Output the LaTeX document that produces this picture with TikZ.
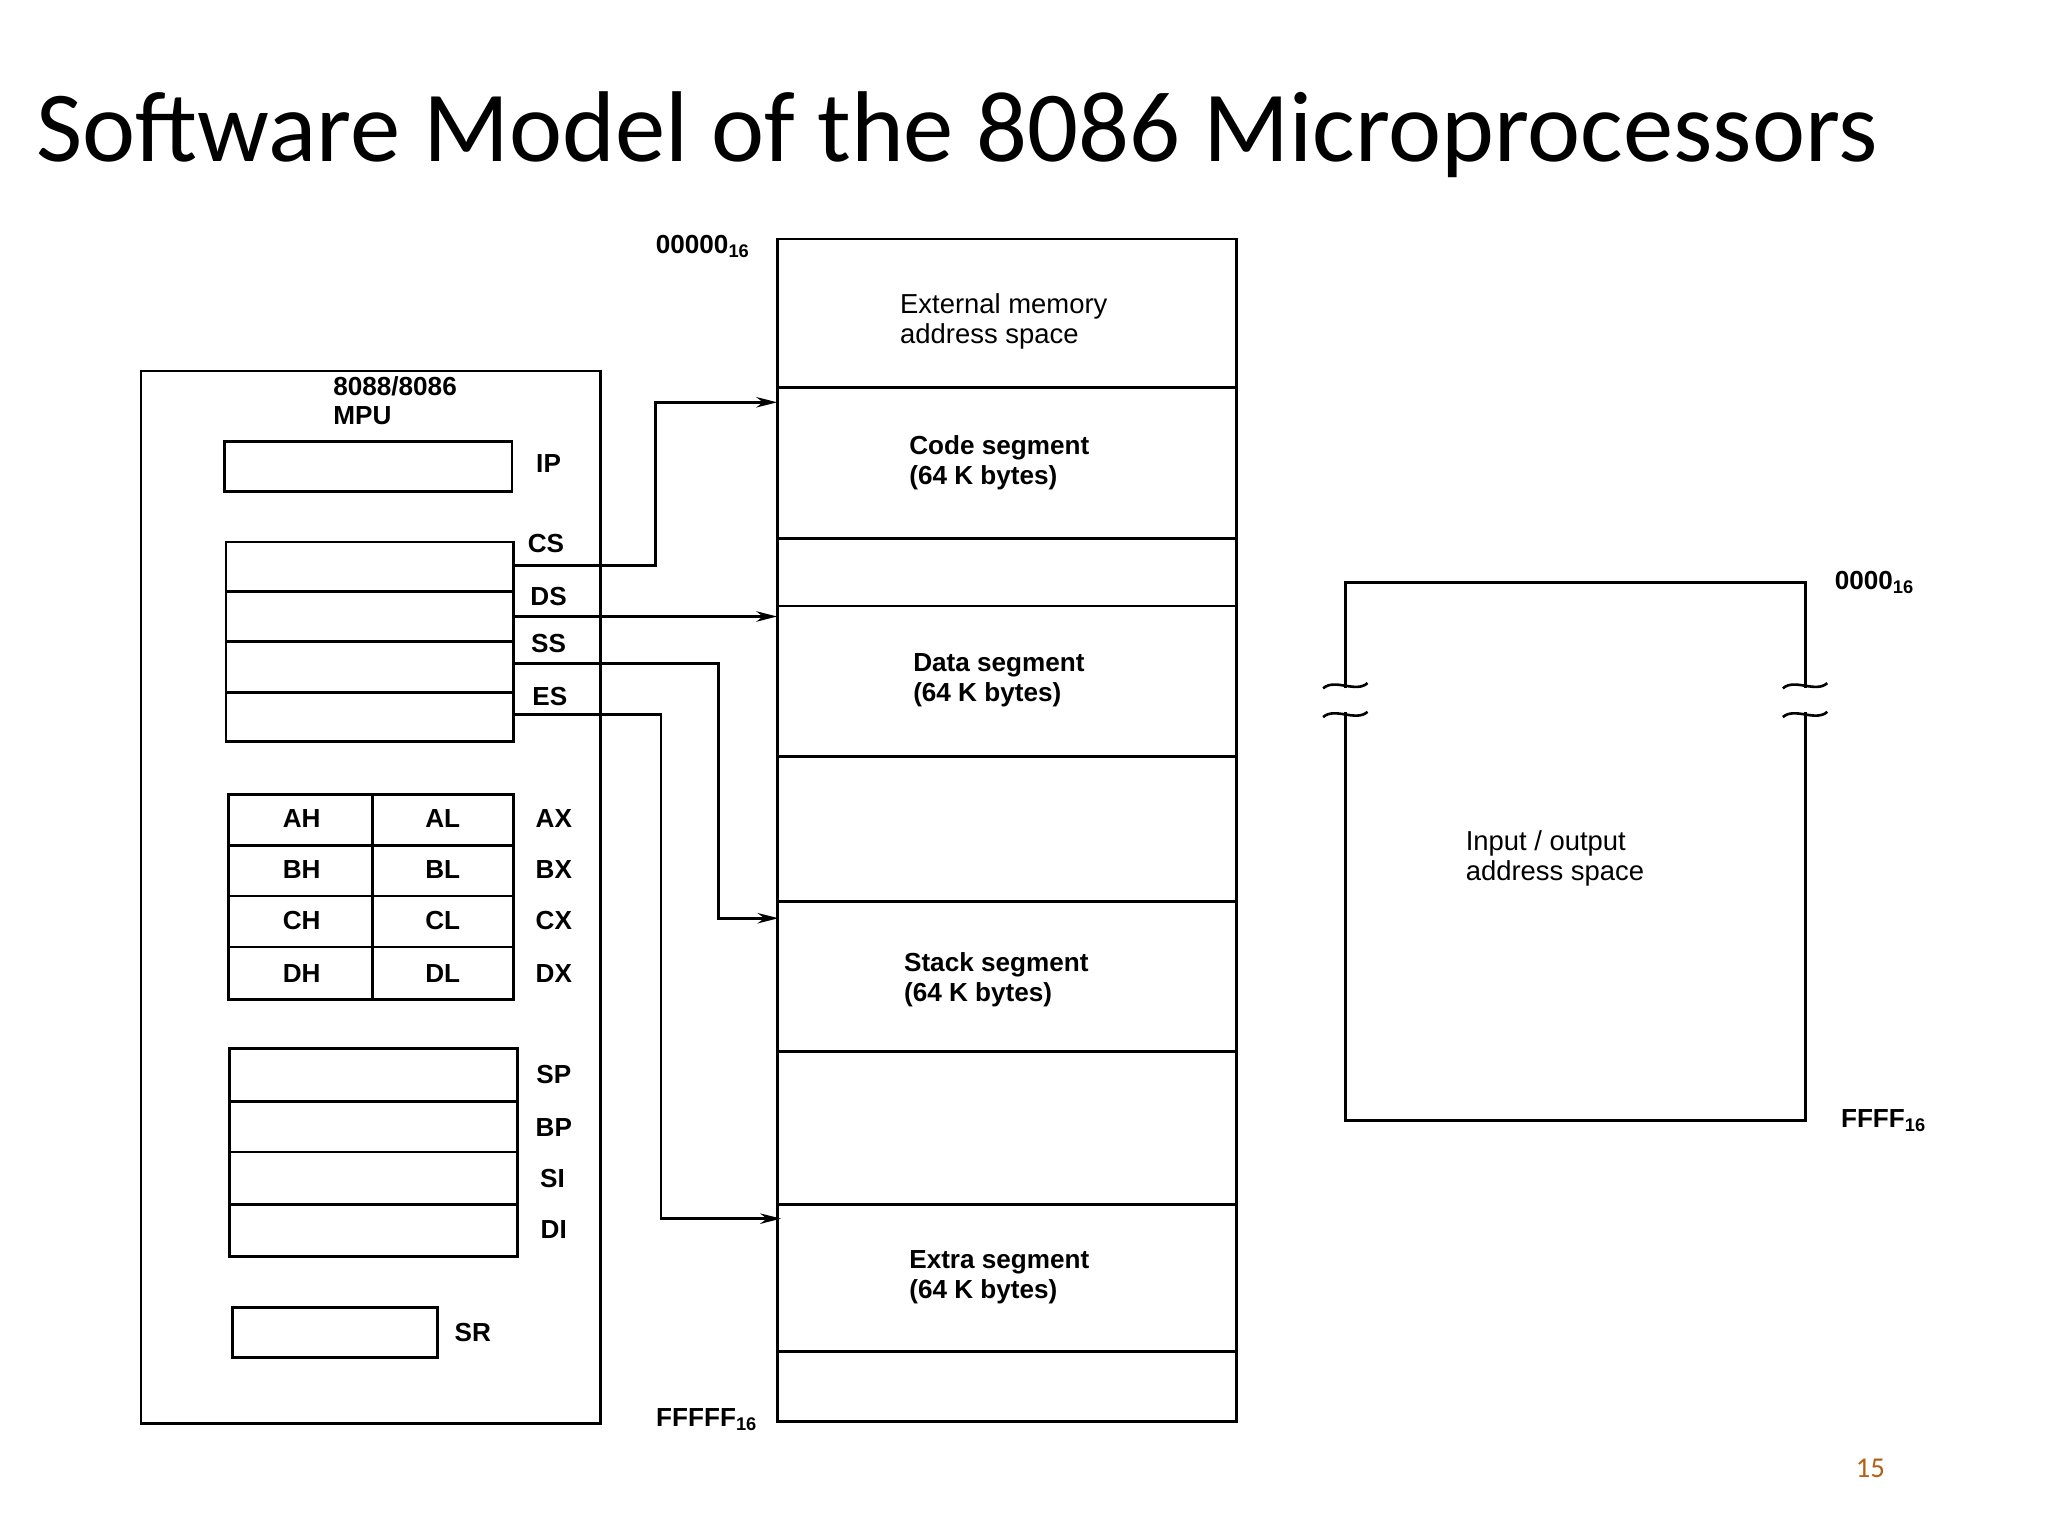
\documentclass[tikz,border=0pt]{standalone}
\usepackage{fontspec}
\setmainfont{Liberation Sans}
\newfontfamily\titlefont{Carlito}
\usetikzlibrary{arrows.meta}
\begin{document}
\begin{tikzpicture}[x=1pt,y=-1pt,
  box/.style={draw,line width=2.2pt},
  lbl/.style={font=\fontsize{20}{22}\selectfont\bfseries,inner sep=0pt},
  mtxt/.style={font=\fontsize{21}{23}\selectfont,align=left,anchor=west,inner sep=0pt},
  conn/.style={line width=2pt,-{Stealth[length=16pt,width=8pt]}}]
\useasboundingbox (0,0) rectangle (1568,1176);
\node[anchor=base west,font=\titlefont\fontsize{77}{80}\selectfont,inner sep=0pt] (title) at (28,124) {Software Model of the 8086 Microprocessors};
% MPU
\draw[box] (108,284) rectangle (460,1090);
\node[lbl,align=left,anchor=north west] (mpu) at (255,288) {8088/8086\\MPU};
\draw[box] (172,338) rectangle (392,376); \node[lbl] (ip) at (420,355) {IP};
\draw[box] (173,415) rectangle (393,568);
\foreach \y in {453,491,530} \draw[box] (173,\y) -- (393,\y);
\node[lbl] (cs) at (418,416) {CS};
\node[lbl] (ds) at (420,457) {DS};
\node[lbl] (ss) at (420,493) {SS};
\node[lbl] (es) at (421,533) {ES};
\draw[box] (175,608) rectangle (393,765); \draw[box] (285,608) -- (285,765);
\foreach \y in {647,686,725} \draw[box] (175,\y) -- (393,\y);
\foreach \h/\l/\x/\y in {AH/AL/AX/627,BH/BL/BX/666,CH/CL/CX/705,DH/DL/DX/745}{
  \node[lbl] (\h) at (231,\y) {\h}; \node[lbl] (\l) at (339,\y) {\l}; \node[lbl] (\x) at (424,\y) {\x};}
\draw[box] (176,803) rectangle (396,962);
\foreach \y in {843,882,922} \draw[box] (176,\y) -- (396,\y);
\node[lbl] (sp) at (424,823) {SP};
\node[lbl] (bp) at (424,863) {BP};
\node[lbl] (si) at (423,902) {SI};
\node[lbl] (di) at (424,941) {DI};
\draw[box] (178,1001) rectangle (335,1039); \node[lbl] (sr) at (362,1020) {SR};
% memory
\draw[box] (595,183) rectangle (947,1088);
\foreach \y in {297,412,464,579,690,805,922,1035} \draw[box] (595,\y) -- (947,\y);
\node[mtxt] (ext) at (689,246) {External memory\\address space};
\node[mtxt,font=\fontsize{20}{23}\selectfont\bfseries] (code) at (696,354) {Code segment\\(64 K bytes)};
\node[mtxt,font=\fontsize{20}{23}\selectfont\bfseries] (data) at (699,521) {Data segment\\(64 K bytes)};
\node[mtxt,font=\fontsize{20}{23}\selectfont\bfseries] (stack) at (692,750) {Stack segment\\(64 K bytes)};
\node[mtxt,font=\fontsize{20}{23}\selectfont\bfseries] (extra) at (696,978) {Extra segment\\(64 K bytes)};
\node[lbl] (m0) at (538,189) {00000$_{\mathbf{16}}$};
\node[lbl] (mf) at (541,1087) {FFFFF$_{\mathbf{16}}$};
% connectors
\coordinate (csS) at (393,433); \coordinate (csE) at (595,308);
\coordinate (dsS) at (393,472); \coordinate (dsE) at (595,472);
\coordinate (ssS) at (393,508); \coordinate (ssE) at (596,703);
\coordinate (esS) at (393,547); \coordinate (esE) at (598,933);
\draw[conn] (csS) -- (502,433) |- (csE);
\draw[conn] (dsS) -- (dsE);
\draw[conn] (ssS) -- (550,508) |- (ssE);
\draw[conn] (esS) -- (506,547) |- (esE);
% IO space
\draw[box] (1030,527) -- (1030,446) -- (1382,446) -- (1382,527);
\draw[box] (1030,545) -- (1030,858) -- (1382,858) -- (1382,545);
\foreach \x in {1030,1382}{
  \draw[line width=2pt] (\x-17,527) .. controls (\x-8,519) and (\x+8,531) .. (\x+17,523);
  \draw[line width=2pt] (\x-17,549) .. controls (\x-8,541) and (\x+8,553) .. (\x+17,545);}
\node[mtxt] (io) at (1122,657) {Input / output\\address space};
\node[lbl] (i0) at (1435,446) {0000$_{\mathbf{16}}$};
\node[lbl] (ifff) at (1442,858) {FFFF$_{\mathbf{16}}$};
\node[font=\titlefont\fontsize{22}{24}\selectfont,text={rgb,255:red,180;green,95;blue,20},inner sep=0pt] (pg) at (1432,1124) {15};
\end{tikzpicture}
\end{document}
